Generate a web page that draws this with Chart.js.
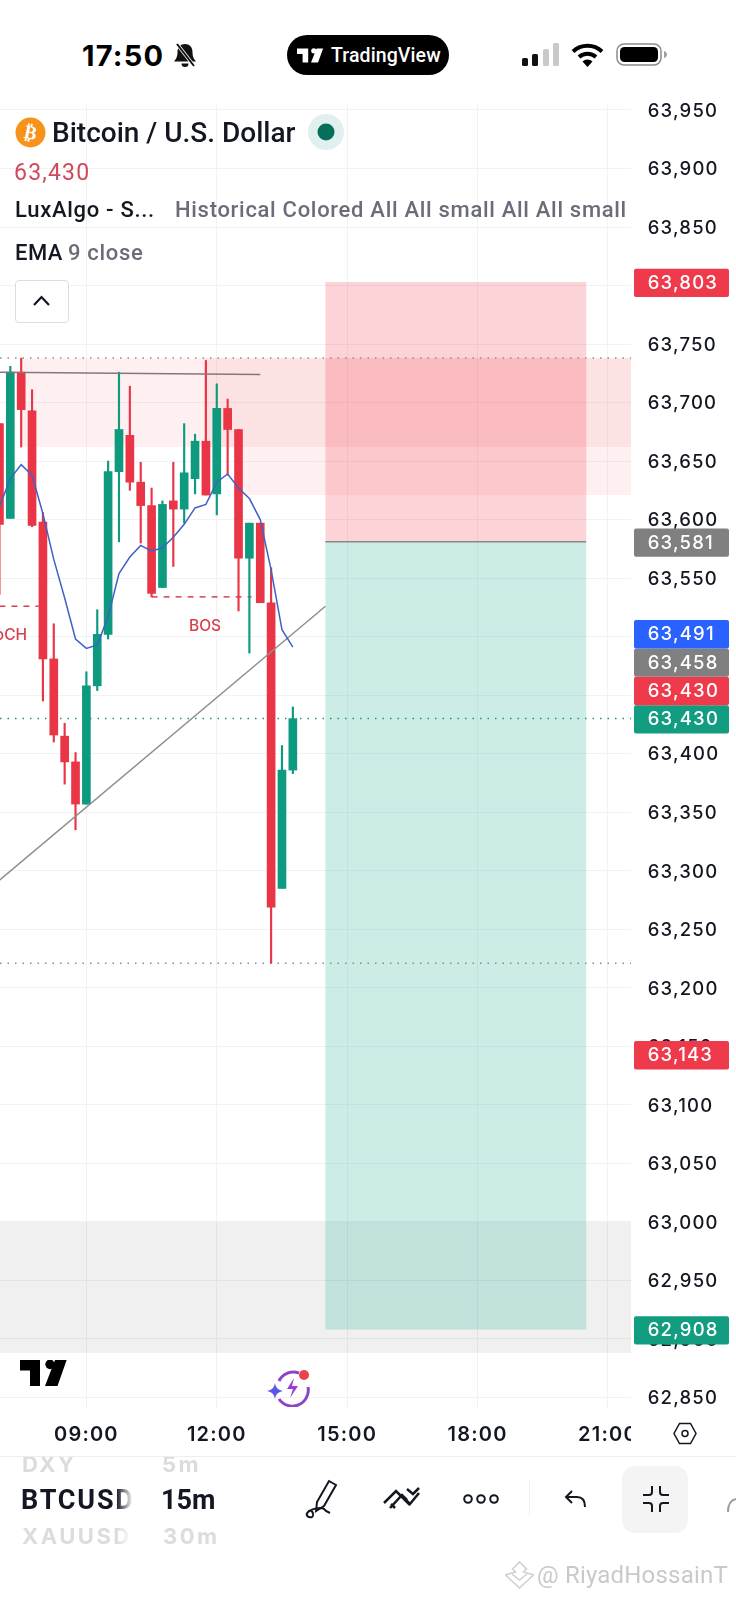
<!DOCTYPE html>
<html>
<head>
<meta charset="utf-8">
<title>BTCUSD 15m</title>
<script src="https://cdn.jsdelivr.net/npm/chart.js@4/dist/chart.umd.js"></script>
<style>
    html, body { margin: 0; padding: 0; background: #fff; }
    #page { position: relative; width: 736px; height: 1600px; overflow: hidden; font-family: Inter, sans-serif; }
    #chart { position: absolute; left: 0; top: 0; }
    .t { position: absolute; white-space: nowrap; transform: translateY(-50%); line-height: 1; }
    .i { position: absolute; display: block; }
    #head { position: absolute; left: 0; top: 0; width: 736px; height: 103px; background: #fff; }
    .dim { color: #dcdcdf; font-weight: 700; font-size: 22px; letter-spacing: 2.500px; }
    .grey { color: #6a6d78; }
    .roboto { font-family: Roboto, sans-serif; }
</style>
</head>
<body>
<div id="page">
    <canvas id="chart" width="736" height="1600"></canvas>

    <div id="head">
        <div class="t" style="left:82px;top:55px;font-size:29px;font-weight:700;color:#000;letter-spacing:1.200px">17:50</div>
        <svg class="i" style="left:172px;top:43px" width="26" height="25" viewBox="0 0 26 25">
            <path d="M13 1c-4.500 0-7.500 3-7.500 8 0 5-1.500 7-3.500 9.500h22c-2-2.500-3.500-4.500-3.500-9.500 0-5-3-8-7.500-8z" fill="#111"/>
            <path d="M9.500 20.500a3.500 3.500 0 0 0 7 0z" fill="#111"/>
            <path d="M5 1l17 22" stroke="#fff" stroke-width="3.500"/>
            <path d="M5 1l17 22" stroke="#111" stroke-width="2"/>
        </svg>
        <div style="position:absolute;left:287px;top:35px;width:162px;height:40px;border-radius:20px;background:#000"></div>
        <svg class="i" style="left:297px;top:48px" width="28" height="15" viewBox="2 6 30 15">
            <path d="M14 6H2v6h6v9h6V6zm16 0h-7l-6 15h7.500l5.500-15z" fill="#fff"/><circle cx="20" cy="8.500" r="2.800" fill="#fff"/>
        </svg>
        <div class="t roboto" style="left:331px;top:56px;font-size:19.500px;font-weight:500;color:#fff;letter-spacing:.1px">TradingView</div>
        <svg class="i" style="left:522px;top:43px" width="38" height="24" viewBox="0 0 38 24">
            <rect x="0" y="15" width="6" height="8" rx="1.500" fill="#111"/><rect x="10" y="11" width="6" height="12" rx="1.500" fill="#111"/>
            <rect x="21" y="6" width="6" height="17" rx="1.500" fill="#c9c9c9"/><rect x="31" y="0" width="6" height="23" rx="1.500" fill="#c9c9c9"/>
        </svg>
        <svg class="i" style="left:571px;top:43px" width="33" height="24" viewBox="0 0 33 24">
            <path d="M2 8.500a21 21 0 0 1 29 0" fill="none" stroke="#000" stroke-width="4"/>
            <path d="M8 14a13 13 0 0 1 17 0" fill="none" stroke="#000" stroke-width="4"/>
            <path d="M11.500 18.500a7 7 0 0 1 10 0L16.500 24z" fill="#000"/>
        </svg>
        <svg class="i" style="left:616px;top:43px" width="52" height="24" viewBox="0 0 52 24">
            <rect x="1" y="1" width="44" height="21" rx="7" fill="none" stroke="#8c8c8c" stroke-width="1.500"/>
            <rect x="4" y="4" width="38" height="15" rx="4.500" fill="#000"/>
            <path d="M48 8c2 .5 3 2 3 3.500s-1 3-3 3.500z" fill="#a0a0a0"/>
        </svg>
    </div>

    <svg class="i" style="left:15px;top:117px" width="31" height="31" viewBox="0 0 31 31">
        <circle cx="15.500" cy="15.500" r="15" fill="#f7931a"/>
        <text x="15.500" y="22" font-size="19" font-weight="700" text-anchor="middle" fill="#fff" font-family="DejaVu Sans" transform="rotate(12 15.500 15.500)">₿</text>
    </svg>
    <div class="t roboto" style="left:52px;top:133px;font-size:28px;font-weight:500;color:#131722">Bitcoin / U.S. Dollar</div>
    <svg class="i" style="left:308px;top:114px" width="36" height="36" viewBox="0 0 36 36">
        <circle cx="18" cy="18" r="18" fill="#dff0ee"/><circle cx="18" cy="18" r="8.500" fill="#066f5b"/>
    </svg>
    <div class="t roboto" style="left:14px;top:172px;font-size:23px;color:#d0495a;letter-spacing:1.200px">63,430</div>
    <div class="t roboto" style="left:15px;top:210px;font-size:22px;font-weight:500;color:#131722;letter-spacing:.7px">LuxAlgo - S...</div>
    <div class="t roboto grey" style="left:175px;top:210px;font-size:22px;font-weight:500;letter-spacing:.7px">Historical Colored All All small All All small</div>
    <div class="t roboto" style="left:15px;top:253px;font-size:22px;font-weight:500;color:#131722;letter-spacing:.5px">EMA</div>
    <div class="t roboto grey" style="left:68px;top:253px;font-size:22px;font-weight:500;letter-spacing:.7px">9 close</div>
    <div style="position:absolute;left:15px;top:280px;width:52px;height:41px;border:1.500px solid #dcdde0;border-radius:4px;background:#fff"></div>
    <svg class="i" style="left:32px;top:294px" width="19" height="13" viewBox="0 0 19 13">
        <path d="M2 11l7.500-8 7.500 8" fill="none" stroke="#131722" stroke-width="2.200"/>
    </svg>

    <svg class="i" style="left:20px;top:1360px" width="50" height="26" viewBox="2 6 30 15" preserveAspectRatio="none">
        <path d="M14 6H2v6h6v9h6V6zm16 0h-7l-6 15h7.500l5.500-15z" fill="#000"/><circle cx="20" cy="8.500" r="2.800" fill="#000"/>
    </svg>
    <svg class="i" style="left:267px;top:1369px" width="46" height="38" viewBox="0 0 46 38">
        <path d="M12 12a16 16 0 0 1 20-8M41 18a16 16 0 0 1-29 12" fill="none" stroke="#8e44c9" stroke-width="3"/>
        <path d="M27 9l-7 11h6l-3 9 8-12h-6z" fill="#9b3fd0"/>
        <path d="M8 14c1 5 3 7 8 8-5 1-7 3-8 8-1-5-3-7-8-8 5-1 7-3 8-8z" fill="#5b57e6"/>
        <circle cx="37" cy="6" r="5" fill="#e8434e"/>
    </svg>
    <svg class="i" style="left:673px;top:1422px" width="24" height="23" viewBox="0 0 24 23">
        <path d="M6.500 1.500h11l5.500 10-5.500 10h-11l-5.500-10z" fill="none" stroke="#131722" stroke-width="1.500"/>
        <circle cx="12" cy="11.500" r="3" fill="none" stroke="#131722" stroke-width="1.500"/>
    </svg>
    <div style="position:absolute;left:0;top:1456px;width:736px;height:1px;background:#eceef1"></div>

    <div style="position:absolute;left:0;top:1457px;width:240px;height:90px;overflow:hidden">
        <div class="t dim" style="left:22px;top:7px">DXY</div>
        <div class="t dim" style="left:162px;top:7px">5m</div>
        <div class="t dim" style="left:22px;top:79px;width:111px;overflow:hidden;-webkit-mask-image:linear-gradient(90deg,#000 85%,transparent)">XAUUSD</div>
        <div class="t dim" style="left:163px;top:79px">30m</div>
    </div>
    <div class="t roboto" style="left:21px;top:1500px;width:112px;overflow:hidden;font-size:27px;font-weight:700;color:#131722;letter-spacing:1.800px;-webkit-mask-image:linear-gradient(90deg,#000 85%,transparent)">BTCUSD</div>
    <div class="t roboto" style="left:161px;top:1500px;font-size:27px;font-weight:700;color:#131722">15m</div>

    <svg class="i" style="left:304px;top:1479px" width="36" height="40" viewBox="0 0 36 40">
        <path d="M25 2l7 4-12 21-8 5 1-9z" fill="none" stroke="#131722" stroke-width="2"/>
        <path d="M4 33c3-5 7 3 4 5-4 1-7-2-4-5 5-4 15-6 18-1l4 2" fill="none" stroke="#131722" stroke-width="2"/>
    </svg>
    <svg class="i" style="left:382px;top:1486px" width="39" height="25" viewBox="0 0 39 25">
        <path d="M2 17L14 5l14 14M13 22l-4-4M22 12l6 6 9-11" fill="none" stroke="#131722" stroke-width="2.500"/>
        <path d="M8 22L20 9l5 5M25 3l6 5 6-6" fill="none" stroke="#131722" stroke-width="2.500"/>
    </svg>
    <svg class="i" style="left:463px;top:1492px" width="37" height="14" viewBox="0 0 37 14">
        <circle cx="5" cy="7" r="3.800" fill="none" stroke="#131722" stroke-width="2"/>
        <circle cx="18" cy="7" r="3.800" fill="none" stroke="#131722" stroke-width="2"/>
        <circle cx="31" cy="7" r="3.800" fill="none" stroke="#131722" stroke-width="2"/>
    </svg>
    <div style="position:absolute;left:529px;top:1480px;width:1px;height:36px;background:#f0f1f3"></div>
    <svg class="i" style="left:564px;top:1490px" width="23" height="18" viewBox="0 0 23 18">
        <path d="M8 1L2 7l6 6M2 7h11c5 0 8 3 8 10" fill="none" stroke="#131722" stroke-width="2"/>
    </svg>
    <div style="position:absolute;left:622px;top:1466px;width:66px;height:67px;border-radius:13px;background:#f4f4f5"></div>
    <svg class="i" style="left:642px;top:1485px" width="28" height="28" viewBox="0 0 28 28">
        <path d="M10 1v6c0 2-1 3-3 3H1M18 1v6c0 2 1 3 3 3h6M10 27v-6c0-2-1-3-3-3H1M18 27v-6c0-2 1-3 3-3h6" fill="none" stroke="#131722" stroke-width="2"/>
    </svg>
    <svg class="i" style="left:726px;top:1496px" width="10" height="18" viewBox="0 0 10 18">
        <path d="M2 16c0-8 3-12 8-13" fill="none" stroke="#9a9ca3" stroke-width="2"/>
    </svg>

    <svg class="i" style="left:505px;top:1561px" width="29" height="28" viewBox="0 0 29 28">
        <path d="M14.500 1l7 7-3 3 10 3-14 13L.5 14l10-3-3-3z" fill="none" stroke="#cfcfd2" stroke-width="1.500"/>
        <path d="M7 13l7.500 6 7.500-6" fill="none" stroke="#cfcfd2" stroke-width="1.500"/>
    </svg>
    <div class="t roboto" style="left:537px;top:1575px;font-size:24px;color:#c9c9cc;letter-spacing:.2px">@ RiyadHossainT</div>
</div>

<script>
    // candles, one every 15 minutes
    const barTimes = ['07:00', '07:15', '07:30', '07:45', '08:00', '08:15', '08:30', '08:45', '09:00', '09:15', '09:30', '09:45', '10:00', '10:15', '10:30', '10:45', '11:00', '11:15', '11:30', '11:45', '12:00', '12:15', '12:30', '12:45', '13:00', '13:15', '13:30', '13:45'];
    const opens = [63682, 63601, 63726, 63693, 63598, 63481, 63415, 63393, 63357, 63458, 63502, 63641, 63672, 63632, 63612, 63542, 63616, 63609, 63635, 63667, 63622, 63695, 63677, 63567, 63597, 63529, 63285, 63386];
    const highs = [63682, 63731, 63738, 63711, 63606, 63511, 63426, 63401, 63470, 63523, 63650, 63726, 63714, 63649, 63627, 63616, 63649, 63682, 63673, 63736, 63716, 63703, 63677, 63597, 63597, 63559, 63407, 63440];
    const lows = [63536, 63601, 63662, 63594, 63445, 63410, 63374, 63335, 63357, 63454, 63498, 63581, 63625, 63580, 63534, 63542, 63560, 63597, 63622, 63621, 63604, 63638, 63522, 63486, 63529, 63221, 63285, 63383];
    const closes = [63596, 63726, 63694, 63595, 63481, 63416, 63393, 63357, 63458, 63502, 63641, 63677, 63632, 63612, 63537, 63613, 63609, 63640, 63667, 63621, 63695, 63677, 63567, 63597, 63529, 63269, 63386, 63430];
    const ema9 = [63611, 63635, 63647, 63638, 63605, 63566, 63533, 63498, 63490, 63493, 63517, 63554, 63568, 63578, 63573, 63576, 63585, 63596, 63610, 63613, 63632, 63639, 63627, 63618, 63600, 63557, 63506, 63491];

    // axes
    const hourTicks = [9, 12, 15, 18, 21];
    const priceTicks = [63950, 63900, 63850, 63800, 63750, 63700, 63650, 63600, 63550, 63500, 63450, 63400, 63350, 63300, 63250, 63200, 63150, 63100, 63050, 63000, 62950, 62900, 62850];

    // drawings on the chart, in hours and prices
    const trendHours = [7, 14.5];
    const trendPrices = [63292, 63526];
    const resistHours = [7, 13];
    const resistPrices = [63726, 63724];
    const dottedPrices = [63738, 63430, 63221];
    const bosHours = [10.5, 12.8];
    const bosPrice = 63534;
    const chochHours = [7, 7.9];
    const chochPrice = 63526;
    const zoneStarts = [7.5, 11.7, 12.6];
    const zoneTops = [63738, 63738, 63662];
    const zoneBottoms = [63662, 63662, 63621];
    const boxHours = [14.5, 20.5];
    const boxStop = 63803;
    const boxEntry = 63581;
    const boxTarget = 62908;
    const greyBand = [63000, 62888];

    // tags on the price axis
    const tagValues = [63803, 63581, 63491, 63458, 63430, 63430, 63143, 62908];
    const tagColors = ['#ef3a4c', '#808080', '#2962ff', '#808080', '#ef3a4c', '#129c80', '#ef3a4c', '#129c80'];

    const UP = '#0e9a7e';
    const DOWN = '#e93546';
    const AXIS_FONT = '500 18.500px Inter';

    const toHours = (t) => parseInt(t.slice(0, 2)) + parseInt(t.slice(3)) / 60;
    const barHours = barTimes.map(toHours);
    const xMax = 21.53;
    const xMin = 7.0125;

    function line(hours, prices, color, width, dash, order) {
        return {
            type: 'line',
            data: hours.map((h, i) => ({x: h, y: prices[i]})),
            borderColor: color,
            borderWidth: width,
            borderDash: dash,
            pointRadius: 0,
            tension: 0,
            order: order,
        };
    }

    const drawings = {
        id: 'drawings',
        beforeDraw(chart) {
            chart.ctx.letterSpacing = '1.200px';
        },
        beforeDatasetsDraw(chart) {
            const {ctx, chartArea, scales: {x, y}} = chart;
            const rect = (h0, h1, p0, p1, color) => {
                ctx.fillStyle = color;
                ctx.fillRect(x.getPixelForValue(h0), y.getPixelForValue(p0), x.getPixelForValue(h1) - x.getPixelForValue(h0), y.getPixelForValue(p1) - y.getPixelForValue(p0));
            };
            ctx.save();
            ctx.beginPath();
            ctx.rect(chartArea.left, chartArea.top, chartArea.width, chartArea.height);
            ctx.clip();
            rect(xMin, xMax, greyBand[0], greyBand[1], 'rgba(0,0,0,0.06)');
            zoneStarts.forEach((s, i) => {
                rect(s, xMax, zoneTops[i], zoneBottoms[i], 'rgba(242,54,69,0.075)');
            });
            rect(boxHours[0], boxHours[1], boxStop, boxEntry, 'rgba(242,54,69,0.22)');
            rect(boxHours[0], boxHours[1], boxEntry, boxTarget, 'rgba(34,171,148,0.23)');
            ctx.restore();
        },
        afterDatasetsDraw(chart) {
            const {ctx, chartArea, scales: {x, y}} = chart;
            ctx.save();
            ctx.beginPath();
            ctx.rect(chartArea.left, chartArea.top, chartArea.width, chartArea.height);
            ctx.clip();
            ctx.letterSpacing = '0px';
            ctx.font = '500 15.500px Inter';
            ctx.fillStyle = '#d8404f';
            ctx.textAlign = 'center';
            ctx.textBaseline = 'middle';
            ctx.fillText('BOS', x.getPixelForValue(11.73), y.getPixelForValue(63509));
            ctx.fillText('CHoCH', x.getPixelForValue(7), y.getPixelForValue(63501));
            ctx.restore();
        },
        afterDraw(chart) {
            const {ctx, chartArea, scales: {y}} = chart;
            // the time axis is cut off where the price axis starts
            ctx.fillStyle = '#fff';
            ctx.fillRect(chartArea.right, chartArea.bottom + 1, 105, 47);

            // tags push each other up when they would overlap, the lowest stays in place
            const tagHeight = 28.400;
            let limit = Infinity;
            const order = tagValues.map((v, i) => i).sort((a, b) => tagValues[a] - tagValues[b] || b - a);
            order.forEach((i) => {
                const cy = Math.min(y.getPixelForValue(tagValues[i]) + 0.800, limit - tagHeight);
                limit = cy;
                ctx.fillStyle = tagColors[i];
                ctx.beginPath();
                ctx.roundRect(634, cy - tagHeight / 2, 95, tagHeight, 2);
                ctx.fill();
                ctx.fillStyle = '#fff';
                ctx.font = AXIS_FONT;
                ctx.textAlign = 'left';
                ctx.textBaseline = 'middle';
                ctx.fillText(tagValues[i].toLocaleString('en-US'), 647.700, cy + 0.500);
            });
        },
    };

    new Chart(document.getElementById('chart'), {
        data: {
            datasets: [
                {
                    type: 'bar',
                    data: barHours.map((h, i) => ({x: h, y: [opens[i], closes[i]]})),
                    backgroundColor: closes.map((c, i) => (c >= opens[i] ? UP : DOWN)),
                    barThickness: 8,
                    borderSkipped: false,
                    grouped: false,
                    order: 4,
                },
                {
                    type: 'bar',
                    data: barHours.map((h, i) => ({x: h, y: [lows[i], highs[i]]})),
                    backgroundColor: closes.map((c, i) => (c >= opens[i] ? UP : DOWN)),
                    barThickness: 1.500,
                    borderSkipped: false,
                    grouped: false,
                    order: 5,
                },
                line(barHours, ema9, '#3f62c4', 1.500, [], 1),
                line(trendHours, trendPrices, '#8f8f8f', 1.500, [], 2),
                line(resistHours, resistPrices, '#8a7478', 1.500, [], 3),
                line(boxHours, [boxEntry, boxEntry], '#888', 1.500, [], 6),
                line([xMin, xMax], [dottedPrices[0], dottedPrices[0]], '#8a8d94', 1.500, [1.500, 6], 6),
                line([xMin, xMax], [dottedPrices[1], dottedPrices[1]], '#2b8f7e', 1.500, [1.500, 6], 6),
                line([xMin, xMax], [dottedPrices[2], dottedPrices[2]], '#8a8d94', 1.500, [1.500, 6], 6),
                line(bosHours, [bosPrice, bosPrice], '#d8404f', 1.500, [6, 6], 6),
                line(chochHours, [chochPrice, chochPrice], '#d8404f', 1.500, [6, 6], 6),
            ],
        },
        options: {
            responsive: false,
            animation: false,
            events: [],
            devicePixelRatio: 1,
            layout: {padding: {top: 104, bottom: 140, left: 0, right: 0}},
            plugins: {legend: {display: false}, tooltip: {enabled: false}},
            scales: {
                x: {
                    type: 'linear',
                    min: xMin,
                    max: xMax,
                    offset: false,
                    afterFit(scale) { scale.height = 52; },
                    afterBuildTicks(scale) { scale.ticks = hourTicks.map((h) => ({value: h})); },
                    border: {display: false},
                    grid: {color: '#f1f2f4', lineWidth: 1, drawTicks: false, offset: false},
                    ticks: {
                        autoSkip: false,
                        maxRotation: 0,
                        padding: 15,
                        color: '#131722',
                        font: {family: 'Inter', size: 20, weight: '600'},
                        callback: (v) => String(v).padStart(2, '0') + ':00',
                    },
                },
                y: {
                    type: 'linear',
                    position: 'right',
                    min: 62841,
                    max: 63955.100,
                    afterFit(scale) { scale.width = 105; },
                    afterBuildTicks(scale) { scale.ticks = priceTicks.map((p) => ({value: p})); },
                    border: {display: false},
                    grid: {color: '#f1f2f4', lineWidth: 1, drawTicks: false},
                    ticks: {
                        autoSkip: false,
                        padding: 16.700,
                        labelOffset: 1.200,
                        color: '#131722',
                        font: {family: 'Inter', size: 18.500, weight: '500'},
                        callback: (v) => v.toLocaleString('en-US'),
                    },
                },
            },
        },
        plugins: [drawings],
    });
</script>
</body>
</html>
